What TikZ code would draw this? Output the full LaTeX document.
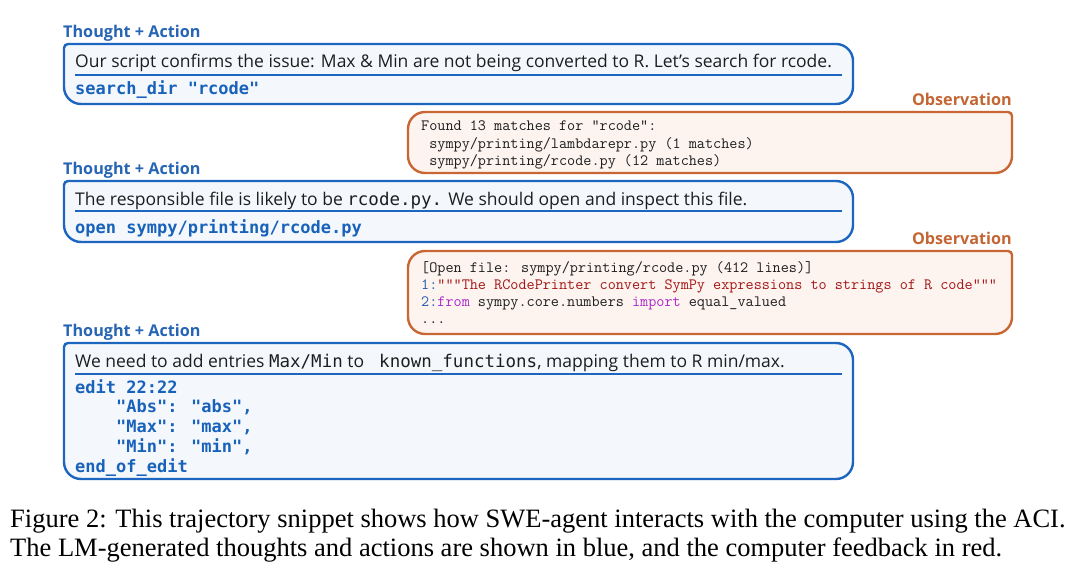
\documentclass[tikz,border=0pt]{standalone}
\usepackage{fontspec}
\setmainfont{Open Sans}
\newfontfamily\capfont{Liberation Serif}
\newfontfamily\codefont{DejaVu Sans Mono}
\usetikzlibrary{positioning}

\definecolor{tblue}{RGB}{28,102,192}
\definecolor{tfill}{RGB}{244,248,253}
\definecolor{tlab}{RGB}{38,100,180}
\definecolor{tcode}{RGB}{24,98,186}
\definecolor{obrown}{RGB}{200,102,52}
\definecolor{ofill}{RGB}{253,244,240}
\definecolor{olab}{RGB}{196,102,52}
\definecolor{ink}{RGB}{30,30,30}
\definecolor{strred}{RGB}{163,21,21}
\definecolor{lnblue}{RGB}{40,90,170}
\definecolor{kwpurple}{RGB}{170,40,200}

\newcommand{\inlinecode}[1]{{\codefont #1}}
% speech-bubble outlines: one small corner, three round ones
\newcommand{\thoughtbubble}[1]{%
  \draw[thoughtframe] ([xshift=4pt]#1.north west) -- ([xshift=-17pt]#1.north east)
    arc[start angle=90, end angle=0, radius=17pt] -- ([yshift=17pt]#1.south east)
    arc[start angle=0, end angle=-90, radius=17pt] -- ([xshift=17pt]#1.south west)
    arc[start angle=-90, end angle=-180, radius=17pt] -- ([yshift=-4pt]#1.north west)
    arc[start angle=180, end angle=90, radius=4pt] -- cycle;}
\newcommand{\obsbubble}[1]{%
  \draw[obsframe] ([xshift=17pt]#1.north west) -- ([xshift=-4pt]#1.north east)
    arc[start angle=90, end angle=0, radius=4pt] -- ([yshift=17pt]#1.south east)
    arc[start angle=0, end angle=-90, radius=17pt] -- ([xshift=17pt]#1.south west)
    arc[start angle=-90, end angle=-180, radius=17pt] -- ([yshift=-17pt]#1.north west)
    arc[start angle=180, end angle=90, radius=17pt] -- cycle;}

\begin{document}
\begin{tikzpicture}[
        x=1pt, y=-1pt,
        box/.style={rectangle, inner sep=0pt, outer sep=0pt, anchor=north west},
        thoughtframe/.style={line width=2.4pt, draw=tblue, fill=tfill},
        obsframe/.style={line width=2.4pt, draw=obrown, fill=ofill},
        sepline/.style={line width=2pt, draw=tblue},
        tlabel/.style={font=\fontsize{16.2}{19}\selectfont\bfseries, text=tlab, inner sep=0pt, text depth=0pt},
        olabel/.style={font=\fontsize{16.2}{19}\selectfont\bfseries, text=olab, inner sep=0pt, text depth=0pt},
        bodytext/.style={font=\fontsize{17.5}{20}\selectfont, text=ink, inner sep=0pt, anchor=base west},
        actcode/.style={font=\codefont\bfseries\fontsize{17}{19.7}\selectfont, text=tcode, inner sep=0pt, anchor=base west},
        obstext/.style={font=\ttfamily\addfontfeatures{FakeBold=0.5}\fontsize{15.75}{17}\selectfont, text=ink, inner sep=0pt, anchor=base west},
        caption/.style={font=\capfont\fontsize{26.5}{29}\selectfont, text=black, inner sep=0pt, anchor=base west}
    ]
        \useasboundingbox[fill=white] (0,0) rectangle (1077,578);

        % first thought + action
        \node[box, minimum width=789pt, minimum height=60pt] (think1) at (64,44) {};
        \thoughtbubble{think1}
        \node[tlabel, above right=6pt and -1pt of think1.north west] (think1lab) {Thought + Action};
        \node[bodytext] (think1txt) at (75,67) {Our script confirms the issue: Max \& Min are not being converted to R. Let's search for rcode.};
        \draw[sepline] ([xshift=11pt,yshift=-31pt]think1.north west) -- ([xshift=-11pt,yshift=-31pt]think1.north east);
        \node[actcode] (act1) at (75,95) {search\_dir "rcode"};

        % first observation
        \node[box, minimum width=604pt, minimum height=61pt] (obs1) at (408,112) {};
        \obsbubble{obs1}
        \node[olabel, above left=6.5pt and 0pt of obs1.north east] (obs1lab) {Observation};
        \node[obstext] (obs1a) at (421,131) {Found 13 matches for "rcode":};
        \node[obstext] (obs1b) at (421,148) {\ sympy/printing/lambdarepr.py (1 matches)};
        \node[obstext] (obs1c) at (421,165) {\ sympy/printing/rcode.py (12 matches)};

        % second thought + action
        \node[box, minimum width=789pt, minimum height=61pt] (think2) at (64,181) {};
        \thoughtbubble{think2}
        \node[tlabel, above right=6pt and -1pt of think2.north west] (think2lab) {Thought + Action};
        \node[bodytext] (think2txt) at (75,205) {The responsible file is likely to be \inlinecode{rcode.py.} We should open and inspect this file.};
        \draw[sepline] ([xshift=11pt,yshift=-30pt]think2.north west) -- ([xshift=-11pt,yshift=-30pt]think2.north east);
        \node[actcode] (act2) at (75,233) {open sympy/printing/rcode.py};

        % second observation
        \node[box, minimum width=604pt, minimum height=83pt] (obs2) at (408,251) {};
        \obsbubble{obs2}
        \node[olabel, above left=6.5pt and 0pt of obs2.north east] (obs2lab) {Observation};
        \node[obstext] (obs2a) at (421,272) {[Open file: sympy/printing/rcode.py (412 lines)]};
        \node[obstext] (obs2b) at (421,289) {\textcolor{lnblue}{1:}\textcolor{strred}{"""The RCodePrinter convert SymPy expressions to strings of R code"""}};
        \node[obstext] (obs2c) at (421,306) {\textcolor{lnblue}{2:}\textcolor{kwpurple}{from} sympy.core.numbers \textcolor{kwpurple}{import} equal\_valued};
        \node[obstext] (obs2d) at (421,323) {...};

        % third thought + action
        \node[box, minimum width=789pt, minimum height=136pt] (think3) at (64,343) {};
        \thoughtbubble{think3}
        \node[tlabel, above right=6pt and -1pt of think3.north west] (think3lab) {Thought + Action};
        \node[bodytext] (think3txt) at (75,367) {We need to add entries \inlinecode{Max/Min} to \inlinecode{\ known\_functions}, mapping them to R min/max.};
        \draw[sepline] ([xshift=11pt,yshift=-31pt]think3.north west) -- ([xshift=-11pt,yshift=-31pt]think3.north east);
        \foreach \line [count=\i from 0] in {{edit 22:22}, {\ \ \ \ "Abs": "abs",}, {\ \ \ \ "Max": "max",}, {\ \ \ \ "Min": "min",}, {end\_of\_edit}}
            \node[actcode] (act3-\i) at (75,393+19.75*\i) {\line};

        % caption
        \node[caption] (cap1) at (10,527) {Figure 2: This trajectory snippet shows how SWE-agent interacts with the computer using the ACI.};
        \node[caption] (cap2) at (10,556) {The LM-generated thoughts and actions are shown in blue, and the computer feedback in red.};
    \end{tikzpicture}
\end{document}
